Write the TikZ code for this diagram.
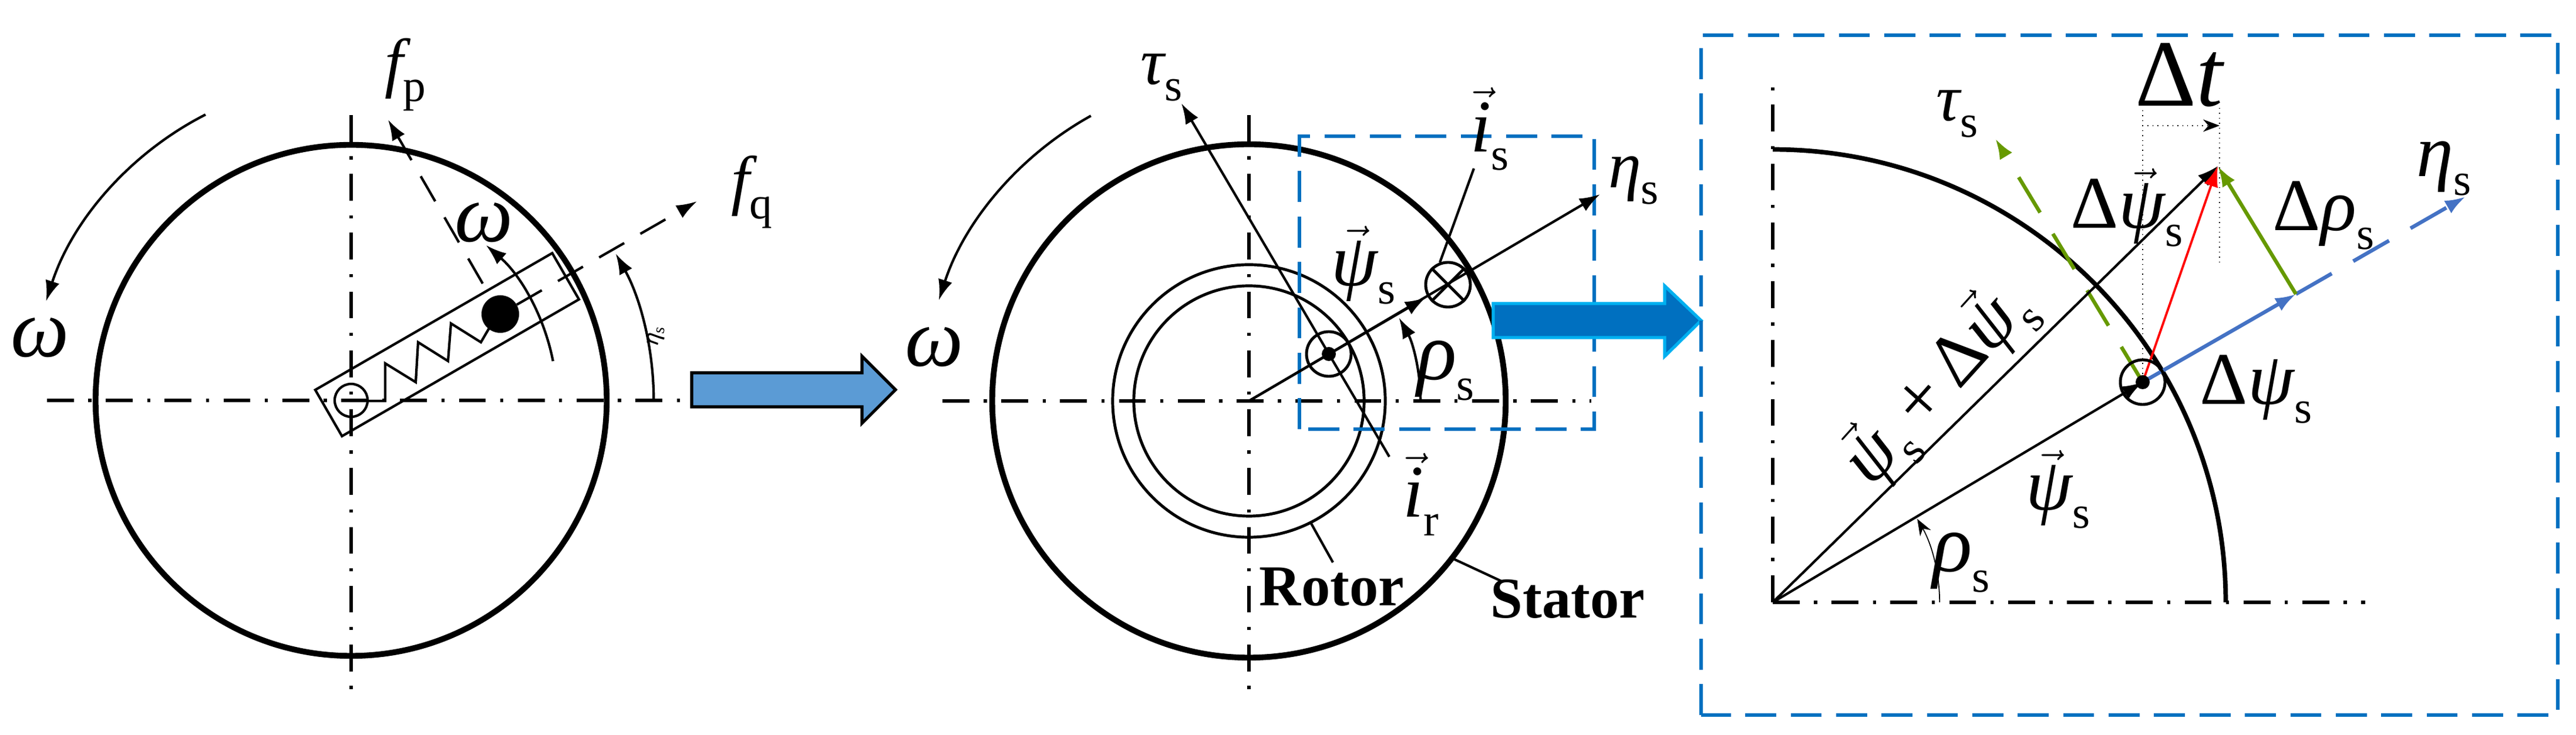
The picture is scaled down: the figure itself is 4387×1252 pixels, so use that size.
\documentclass[tikz,border=0pt]{standalone}
\usepackage{fontspec}
\setmainfont{Liberation Serif}
\usetikzlibrary{arrows.meta}
\newcommand\fs[1]{\fontsize{#1}{#1}\selectfont}
\newcommand\low[1]{\raisebox{-0.25em}{\fs{22}\upshape #1}}
\newcommand\gk[1]{{\itshape #1}}
\newcommand\vv[1]{$\vec{\hbox{\itshape #1}}$}
\definecolor{boxblue}{RGB}{0,112,192}
\definecolor{arrblue}{RGB}{91,155,213}
\definecolor{etablue}{RGB}{68,114,196}
\definecolor{grn}{RGB}{102,153,0}
\tikzset{
  axisline/.style={line width=1.5pt, dash pattern=on 13pt off 7pt on 1.5pt off 7pt},
  thickc/.style={line width=2.8pt},
  thinl/.style={line width=1.2pt},
  tip/.style={-{Latex[length=10pt,width=7pt]}},
  lbl/.style={inner sep=0pt, font=\fs{32}},
  bluebox/.style={boxblue, line width=1.7pt, dash pattern=on 15pt off 7pt},
}
\begin{document}
\begin{tikzpicture}[x=0.01cm,y=0.01cm]
\useasboundingbox (0,0) rectangle (4387,1252);
% ---------- panel 1 ----------
\coordinate (O1) at (598,570);
\draw[axisline] (80,570) -- (1178,570);
\draw[axisline] (598,1056) -- (598,54);
\draw[thickc] (O1) circle[radius=4.35cm];
\begin{scope}[shift={(O1)},rotate=30]
\draw[thinl] (-44,-45) rectangle (422,46);
\end{scope}
\draw[thinl] (O1) circle[radius=0.28cm];
\draw[thinl] (596,569) -- (656,569) -- (656,633) -- (708,601) -- (712,669) -- (763,637) -- (768,701) -- (819,669) -- (833,693);
\fill (852,717) circle[radius=0.32cm];
\coordinate (fpS) at (822,769); \coordinate (fpE) at (661,1048);
\coordinate (fqS) at (880,733); \coordinate (fqE) at (1187,909);
\draw[thinl,dash pattern=on 14pt off 9pt,tip] (fpS) -- (fpE);
\draw[thinl,dash pattern=on 14pt off 9pt,tip] (fqS) -- (fqE);
\node[lbl] (fp) at (690,1125) {\gk{f}\low{p}};
\node[lbl] (fq) at (1280,925) {\gk{f}\low{q}};
\draw[thinl,tip] ([shift={(11:3.5cm)}]O1) arc[start angle=11,end angle=49,radius=3.5cm];
\node[lbl,font=\fs{40}] (w1a) at (824,873) {\gk{ω}};
\draw[thinl,tip] ([shift={(0:5.15cm)}]O1) arc[start angle=0,end angle=29,radius=5.15cm];
\node[lbl,font=\fs{12},rotate=80] (eta1) at (1118,680) {\gk{η}\textsubscript{s}};
\draw[thinl,tip] ([shift={(117:5.46cm)}]O1) arc[start angle=117,end angle=162,radius=5.46cm];
\node[lbl,font=\fs{40}] (w1b) at (68,677) {\gk{ω}};
\draw[line width=1.5pt,fill=arrblue] (1178,617) -- (1468,617) -- (1468,645) -- (1525,588) -- (1468,531) -- (1468,559) -- (1178,559) -- cycle;
% ---------- panel 2 ----------
\coordinate (O2) at (2127,569);
\draw[axisline] (1605,569) -- (2710,569);
\draw[axisline] (2127,1056) -- (2127,54);
\draw[thickc] (O2) circle[radius=4.37cm];
\draw[line width=1.4pt] (O2) circle[radius=2.32cm];
\draw[line width=1.4pt] (O2) circle[radius=1.96cm];
\draw[bluebox] (2213,521) rectangle (2715,1020);
\coordinate (tauS) at (2366,474); \coordinate (tauE) at (2012,1076);
\draw[thinl,tip] (tauS) -- (tauE);
\node[lbl] (tau2) at (1978,1120) {\gk{τ}\low{s}};
\coordinate (etaE2) at (2725,921);
\draw[thinl,tip] (O2) -- (etaE2);
\node[lbl] (eta2) at (2782,945) {\gk{η}\low{s}};
\coordinate (psiE2) at (2428,745);
\draw[thinl,tip] (O2) -- (psiE2);
\node[lbl,font=\fs{36}] (psi2) at (2322,800) {\vv{ψ}\low{s}};
\node[draw,circle,line width=1.4pt,minimum size=0.76cm,inner sep=0pt] (dot2) at (2263,649) {};
\fill (dot2.center) circle[radius=0.12cm];
\node[draw,circle,line width=1.4pt,minimum size=0.76cm,inner sep=0pt] (cr2) at (2466,767) {};
\draw[line width=1.4pt] (cr2.45) -- (cr2.225) (cr2.135) -- (cr2.315);
\coordinate (isL) at (2510,965);
\draw[thinl] (isL) -- (cr2.110);
\node[lbl,font=\fs{36}] (is2) at (2537,1032) {\vv{i}\low{s}};
\node[lbl,font=\fs{36}] (ir2) at (2420,410) {\vv{i}\low{r}};
\draw[thinl,tip] ([shift={(0:2.92cm)}]O2) arc[start angle=0,end angle=29,radius=2.92cm];
\node[lbl,font=\fs{40}] (rho2) at (2462,621) {\gk{ρ}\low{s}};
\draw[thinl,tip] ([shift={(119:5.55cm)}]O2) arc[start angle=119,end angle=162,radius=5.55cm];
\node[lbl,font=\fs{40}] (w2) at (1591,661) {\gk{ω}};
\coordinate (rotL) at (2232,362);
\draw[thinl] (rotL) -- (2270,294);
\node[lbl,font=\fs{28}\bfseries] (rotor) at (2268,252) {Rotor};
\coordinate (staL) at (2471,302);
\draw[thinl] (staL) -- (2557,262);
\node[lbl,font=\fs{28}\bfseries] (stator) at (2670,232) {Stator};
\draw[line width=1.5pt,draw={rgb,255:red,0;green,176;blue,240},fill=boxblue] (2543,735) -- (2835,735) -- (2835,765) -- (2897,706) -- (2835,645) -- (2835,677) -- (2543,677) -- cycle;
% ---------- panel 3 ----------
\draw[bluebox] (2897,34) rectangle (4356,1192);
\coordinate (O3) at (3019,226);
\draw[axisline] (3019,226) -- (4028,226);
\draw[axisline] (3019,226) -- (3019,1120);
\draw[line width=2.2pt] ([shift={(0:7.71cm)}]O3) arc[start angle=0,end angle=90,radius=7.71cm];
\coordinate (P) at (3649,601);
\coordinate (Q) at (3777,969);
\coordinate (R) at (3910,751);
\coordinate (etaE3) at (4199,917);
\coordinate (tauE3) at (3398,1016);
\draw[line width=0.4pt,dotted] (3649,1064) -- (P);
\draw[line width=0.4pt,dotted] (3780,1068) -- (3780,801);
\draw[line width=0.4pt,dotted,-{Stealth[length=8pt,width=6pt]}] (3649,1038) -- (3780,1038);
\node[lbl,font=\fs{46}] (dt) at (3711,1124) {Δ\gk{t}};
\draw[grn,line width=1.8pt,dash pattern=on 20pt off 12pt,tip] (P) -- (tauE3);
\node[lbl] (tau3) at (3333,1058) {\gk{τ}\low{s}};
\draw[thinl,tip] (O3) -- (Q);
\draw[thinl,tip] (O3) -- (P);
\draw[red,line width=1.1pt,tip] (P) -- (Q);
\draw[etablue,line width=1.8pt,tip] (P) -- (R);
\draw[etablue,line width=1.8pt,dash pattern=on 20pt off 12pt,tip] (R) -- (etaE3);
\node[lbl,font=\fs{36}] (eta3) at (4162,965) {\gk{η}\low{s}};
\draw[grn,line width=1.8pt,tip] (R) -- (Q);
\node[lbl,font=\fs{36}] (drho) at (3957,885) {Δ\gk{ρ}\low{s}};
\node[draw,circle,line width=1.4pt,minimum size=0.76cm,inner sep=0pt] (dot3) at (P) {};
\fill (dot3.center) circle[radius=0.12cm];
\node[lbl,font=\fs{36}] (dpsi3) at (3622,898) {Δ\vv{ψ}\low{s}};
\node[lbl,font=\fs{36}] (sum3) at (3300,597) [rotate=48] {\vv{ψ}\low{s}\,+\,Δ\vv{ψ}\low{s}};
\node[lbl,font=\fs{36}] (dpsis) at (3842,589) {Δ\gk{ψ}\low{s}};
\node[lbl,font=\fs{36}] (psi3) at (3505,418) {\vv{ψ}\low{s}};
\draw[line width=0.5pt,-{Stealth[length=8pt,width=6pt]}] ([shift={(0:2.84cm)}]O3) arc[start angle=0,end angle=30,radius=2.84cm];
\node[lbl,font=\fs{40}] (rho3) at (3340,294) {\gk{ρ}\low{s}};
\end{tikzpicture}
\end{document}
